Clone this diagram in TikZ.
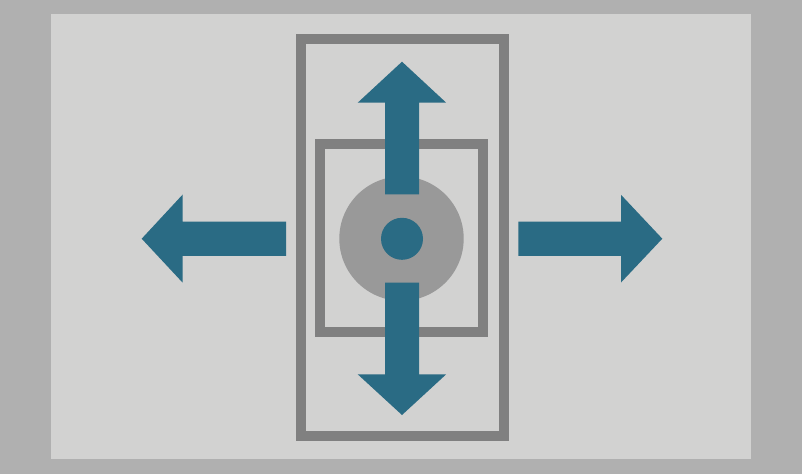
\documentclass[tikz,border=0pt]{standalone}
\definecolor{outerbg}{HTML}{B0B0B0}
\definecolor{innerbg}{HTML}{D2D2D1}
\definecolor{frame}{HTML}{808080}
\definecolor{disc}{HTML}{999999}
\definecolor{arrowblue}{HTML}{2A6B84}
\tikzset{
  framebox/.style={draw=frame, line width=10pt},
  bluearrow/.style={fill=arrowblue, draw=none},
}
\begin{document}
\begin{tikzpicture}[x=1pt,y=-1pt]
  \fill[outerbg] (0,0) rectangle (802,474);
  \useasboundingbox (0,0) rectangle (802,474);
  \fill[innerbg] (51,14.3) rectangle (751.3,459);
  % frames
  \draw[framebox] (301,38.5) rectangle (503.7,436);
  \draw[framebox] (320,144.3) rectangle (482.5,332.3);
  % disc
  \fill[disc] (401.5,238.6) circle (62.2);
  \fill[arrowblue] (402,238.8) circle (21);
  % up arrow
  \fill[bluearrow] (385.2,194.3) -- (385.2,102.7) -- (357.7,102.7) -- (402,61.7)
    -- (446.2,102.7) -- (419.2,102.7) -- (419.2,194.3) -- cycle;
  % down arrow
  \fill[bluearrow] (385.2,282.7) -- (385.2,374.3) -- (357.7,374.3) -- (402,415)
    -- (446.2,374.3) -- (419.2,374.3) -- (419.2,282.7) -- cycle;
  % left arrow
  \fill[bluearrow] (286,221.5) -- (182.7,221.5) -- (182.7,194.5) -- (141.7,238.7)
    -- (182.7,282.7) -- (182.7,255.8) -- (286,255.8) -- cycle;
  % right arrow
  \fill[bluearrow] (518.3,221.5) -- (621,221.5) -- (621,194.8) -- (662.3,238.7)
    -- (621,282.5) -- (621,255.8) -- (518.3,255.8) -- cycle;
\end{tikzpicture}
\end{document}
